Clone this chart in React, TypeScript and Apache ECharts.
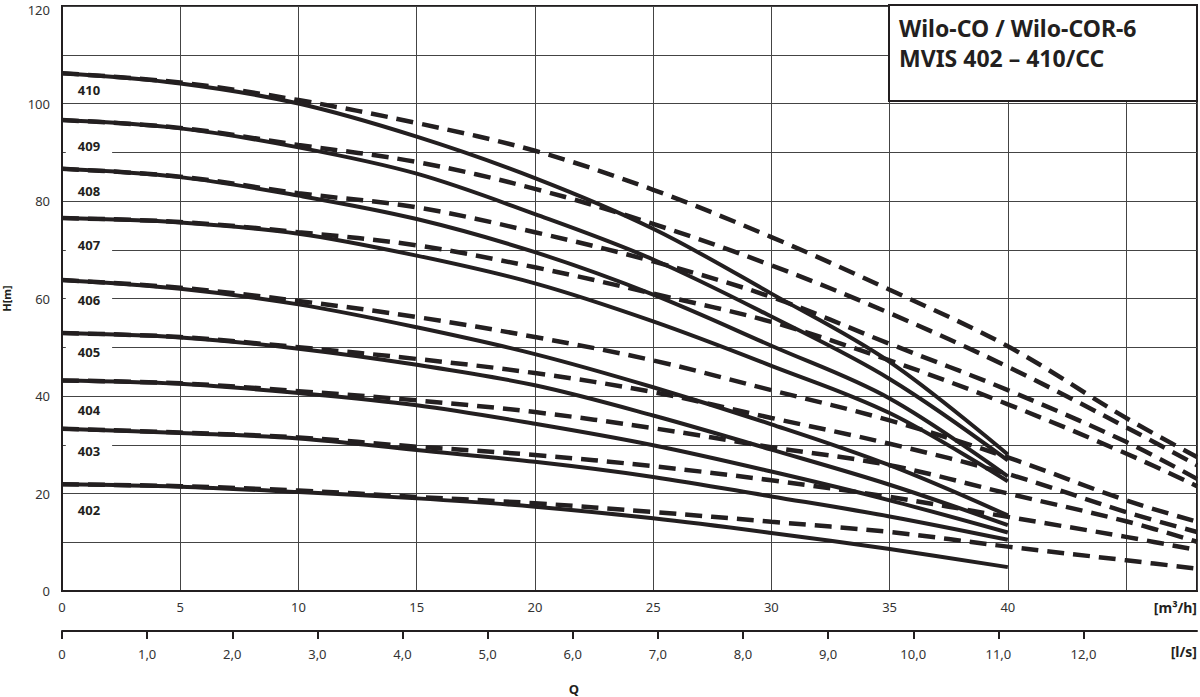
import React, { useEffect, useRef } from "react";
import * as echarts from "echarts";

// ---------- data ----------
const stages = ["402", "403", "404", "405", "406", "407", "408", "409", "410"];

// flow points (m³/h)
const qSolid = [0, 5, 10, 15, 20, 25, 30, 35, 40];
const qDashed = [0, 5, 10, 15, 20, 25, 30, 35, 40, 45, 48];

// solid curves H [m]
const solid402 = [21.9, 21.4, 20.3, 19.0, 17.3, 14.9, 11.9, 8.6, 4.9];
const solid403 = [33.3, 32.4, 31.3, 28.9, 26.5, 23.4, 19.4, 15.3, 10.5];
const solid404 = [43.2, 42.5, 40.6, 38.1, 34.3, 29.9, 24.5, 18.6, 12.0];
const solid405 = [52.9, 52.0, 49.7, 46.4, 42.2, 36.0, 29.0, 21.8, 13.5];
const solid406 = [63.8, 62.0, 58.8, 54.1, 48.6, 41.8, 34.2, 25.8, 15.5];
const solid407 = [76.5, 75.6, 73.3, 68.8, 63.1, 55.3, 46.2, 36.5, 22.5];
const solid408 = [86.6, 84.9, 81.1, 76.3, 69.5, 60.8, 50.3, 39.5, 23.5];
const solid409 = [96.6, 94.9, 91.0, 85.6, 77.3, 68.0, 56.3, 43.5, 26.8];
const solid410 = [106.2, 104.1, 100.0, 93.2, 84.7, 74.3, 61.0, 47.0, 28.0];

// dashed curves H [m]
const dashed402 = [21.9, 21.5, 20.6, 19.3, 18.0, 16.2, 14.2, 12.1, 9.1, 6.3, 4.6];
const dashed403 = [33.3, 32.5, 31.5, 29.6, 27.9, 25.6, 22.7, 19.3, 15.2, 11.1, 8.4];
const dashed404 = [43.2, 42.6, 41.0, 39.1, 36.7, 33.4, 29.5, 25.8, 20.0, 14.3, 10.1];
const dashed405 = [52.9, 52.1, 50.0, 47.6, 44.7, 40.8, 35.5, 30.2, 24.0, 16.2, 12.1];
const dashed406 = [63.8, 62.2, 59.5, 56.2, 52.1, 47.3, 41.2, 35.0, 27.4, 18.6, 14.2];
const dashed407 = [76.5, 75.7, 73.6, 70.9, 66.4, 61.0, 55.2, 47.3, 38.3, 28.2, 21.5];
const dashed408 = [86.6, 85.0, 81.6, 78.7, 73.6, 67.6, 60.3, 50.7, 41.2, 30.6, 23.0];
const dashed409 = [96.6, 95.0, 91.5, 88.0, 82.5, 75.3, 66.8, 57.0, 46.0, 33.6, 25.8];
const dashed410 = [106.2, 104.3, 100.7, 96.0, 90.3, 82.3, 72.6, 61.8, 50.2, 35.5, 27.5];

const solidCurves = [solid402, solid403, solid404, solid405, solid406, solid407, solid408, solid409, solid410];
const dashedCurves = [dashed402, dashed403, dashed404, dashed405, dashed406, dashed407, dashed408, dashed409, dashed410];

// curve label anchors (data space)
const labelQ = 1.14;
const labelH = [16.6, 28.7, 37.2, 49.0, 59.6, 70.9, 82.1, 91.3, 102.8];

// axis ticks
const m3hTicks = [0, 5, 10, 15, 20, 25, 30, 35, 40, 45];
const lsTicks = [0, 1, 2, 3, 4, 5, 6, 7, 8, 9, 10, 11, 12];
const qMax = 48;
const hMax = 120;

const titleLine1 = "Wilo-CO / Wilo-COR-6";
const titleLine2 = "MVIS 402 – 410/CC";

const INK = "#231f20";
const FONT = "'Noto Sans', 'DejaVu Sans', sans-serif";

export default function App() {
  const ref = useRef<HTMLDivElement>(null);

  useEffect(() => {
    document.body.style.margin = "0";
    if (!ref.current) return;
    const chart = echarts.init(ref.current, null, { renderer: "svg" });

    const series: any[] = [];
    dashedCurves.forEach((arr, i) => {
      series.push({
        type: "line",
        name: stages[i] + " dashed",
        xAxisIndex: 0,
        yAxisIndex: 0,
        data: qDashed.map((q, k) => [q, arr[k]]),
        showSymbol: false,
        smooth: 0.35,
        lineStyle: { color: INK, width: 4.5, type: [17, 9] },
        z: 3,
      });
    });
    solidCurves.forEach((arr, i) => {
      series.push({
        type: "line",
        name: stages[i],
        xAxisIndex: 0,
        yAxisIndex: 0,
        data: qSolid.map((q, k) => [q, arr[k]]),
        showSymbol: false,
        smooth: 0.35,
        lineStyle: { color: INK, width: 4, type: "solid" },
        z: 4,
      });
    });

    const staticGraphics: any[] = [
      {
        type: "rect",
        z: 100,
        shape: { x: 889, y: 5, width: 308, height: 96 },
        style: { fill: "#ffffff", stroke: INK, lineWidth: 2 },
      },
      {
        type: "text",
        z: 101,
        x: 899,
        y: 28,
        style: {
          text: titleLine1,
          fill: INK,
          fontFamily: FONT,
          fontWeight: "bold",
          fontSize: 23,
          textVerticalAlign: "middle",
        },
      },
      {
        type: "text",
        z: 101,
        x: 899,
        y: 58,
        style: {
          text: titleLine2,
          fill: INK,
          fontFamily: FONT,
          fontWeight: "bold",
          fontSize: 23,
          textVerticalAlign: "middle",
        },
      },
      {
        type: "text",
        z: 101,
        x: 1197,
        y: 607,
        style: {
          text: "[m³/h]",
          fill: INK,
          fontFamily: FONT,
          fontWeight: "bold",
          fontSize: 14,
          textAlign: "right",
          textVerticalAlign: "middle",
        },
      },
      {
        type: "text",
        z: 101,
        x: 1197,
        y: 651,
        style: {
          text: "[l/s]",
          fill: INK,
          fontFamily: FONT,
          fontWeight: "bold",
          fontSize: 14,
          textAlign: "right",
          textVerticalAlign: "middle",
        },
      },
      {
        type: "text",
        z: 101,
        x: 574,
        y: 689,
        style: {
          text: "Q",
          fill: INK,
          fontFamily: FONT,
          fontWeight: "bold",
          fontSize: 13,
          textAlign: "center",
          textVerticalAlign: "middle",
        },
      },
    ];

    chart.setOption({
      animation: false,
      backgroundColor: "#ffffff",
      textStyle: { fontFamily: FONT },
      grid: {
        left: 62,
        right: 3,
        top: 6,
        bottom: 106,
        show: true,
        borderColor: INK,
        borderWidth: 2,
        backgroundColor: "transparent",
        containLabel: false,
        outerBoundsMode: "none",
      },
      xAxis: [
        {
          type: "value",
          min: 0,
          max: qMax,
          interval: 5,
          position: "bottom",
          axisLine: { show: true, lineStyle: { color: INK, width: 2 } },
          axisTick: { show: false },
          splitLine: { show: true, lineStyle: { color: "#444", width: 1 } },
          axisLabel: {
            customValues: m3hTicks,
            showMaxLabel: false,
            color: "#333",
            fontSize: 13,
            margin: 9,
            fontFamily: FONT,
          },
        },
        {
          type: "value",
          min: 0,
          max: qMax / 3.6,
          interval: 1,
          position: "bottom",
          offset: 40,
          axisLine: { show: true, onZero: false, lineStyle: { color: INK, width: 2 } },
          axisTick: { show: true, customValues: lsTicks, length: 8, lineStyle: { color: INK, width: 2 } },
          splitLine: { show: false },
          axisLabel: {
            customValues: lsTicks,
            color: "#333",
            fontSize: 13,
            margin: 16,
            fontFamily: FONT,
            formatter: (v: number) => (v === 0 ? "0" : v.toFixed(1).replace(".", ",")),
          },
        },
      ],
      yAxis: {
        type: "value",
        min: 0,
        max: hMax,
        interval: 10,
        name: "H[m]",
        nameLocation: "middle",
        nameGap: 50,
        nameRotate: 90,
        nameTextStyle: { fontWeight: "bold", fontSize: 11, color: INK, fontFamily: FONT },
        axisLine: { show: true, lineStyle: { color: INK, width: 2 } },
        axisTick: { show: false },
        splitLine: { show: true, lineStyle: { color: "#444", width: 1 } },
        axisLabel: {
          color: "#333",
          fontSize: 13,
          margin: 12,
          padding: [5, 0, 0, 0],
          fontFamily: FONT,
          formatter: (v: number) => (v % 20 === 0 && v !== hMax ? String(v) : ""),
        },
      },
      graphic: staticGraphics,
      series,
    });

    // curve labels positioned through the chart's own scales
    const labelGraphics: any[] = labelH.map((h, i) => {
      const [px, py] = chart.convertToPixel({ xAxisIndex: 0, yAxisIndex: 0 }, [labelQ, h]);
      return {
        type: "text",
        z: 50,
        x: px,
        y: py,
        style: {
          text: stages[i],
          fill: INK,
          fontFamily: FONT,
          fontWeight: "bold",
          fontSize: 13,
          textAlign: "center",
          textVerticalAlign: "middle",
          backgroundColor: "#ffffff",
          padding: [1, 12, 1, 12],
        },
      };
    });
    // top tick label (kept inside the page)
    const [tx, ty] = chart.convertToPixel({ xAxisIndex: 0, yAxisIndex: 0 }, [0, hMax]);
    labelGraphics.push({
      type: "text",
      z: 50,
      x: tx - 12,
      y: ty + 4,
      style: {
        text: String(hMax),
        fill: "#333",
        fontFamily: FONT,
        fontSize: 13,
        textAlign: "right",
        textVerticalAlign: "middle",
      },
    });
    chart.setOption({ graphic: [...staticGraphics, ...labelGraphics] });

    return () => {
      chart.dispose();
    };
  }, []);

  return (
    <div
      ref={ref}
      style={{ width: 1200, height: 697, position: "absolute", left: 0, top: 0 }}
    />
  );
}
